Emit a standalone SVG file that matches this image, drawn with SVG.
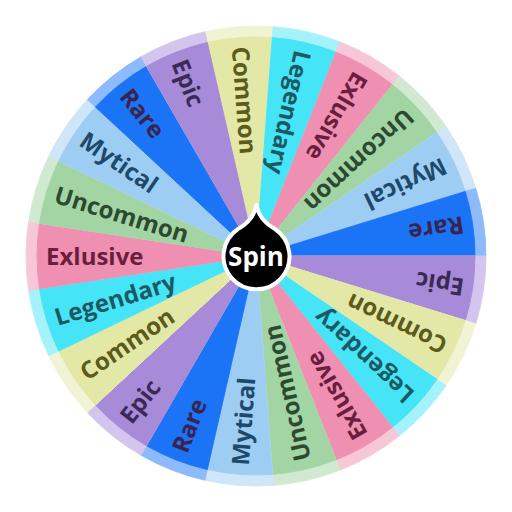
<svg xmlns="http://www.w3.org/2000/svg" xmlns:xlink="http://www.w3.org/1999/xlink" width="512" height="512" viewBox="0 0 512 512">
<style>
text.lbl{font-family:"Open Sans","Liberation Sans",sans-serif;font-weight:700;font-size:24px;}
.common .rim{fill:#f0f4d5;stroke:#f0f4d5}.common .in{fill:#e3e8a6;stroke:#e3e8a6}.common text{fill:#5c5b1c}
.legendary .rim{fill:#a6f2fb;stroke:#a6f2fb}.legendary .in{fill:#45e4f7;stroke:#45e4f7}.legendary text{fill:#1b5a63}
.exlusive .rim{fill:#f7c7d8;stroke:#f7c7d8}.exlusive .in{fill:#ef8fb1;stroke:#ef8fb1}.exlusive text{fill:#6a1e3e}
.uncommon .rim{fill:#d1e9d1;stroke:#d1e9d1}.uncommon .in{fill:#a3d4a3;stroke:#a3d4a3}.uncommon text{fill:#2b4a30}
.mytical .rim{fill:#cfe6f9;stroke:#cfe6f9}.mytical .in{fill:#9ecdf3;stroke:#9ecdf3}.mytical text{fill:#1d4a6c}
.rare .rim{fill:#8cbafa;stroke:#8cbafa}.rare .in{fill:#1a74f5;stroke:#1a74f5}.rare text{fill:#3a2350}
.epic .rim{fill:#d3c5ee;stroke:#d3c5ee}.epic .in{fill:#a78ad8;stroke:#a78ad8}.epic text{fill:#3b2a55}
.rim,.in{stroke-width:0.8;stroke-linejoin:round}
</style>
<defs>
<path id="wr" d="M256,256 L483.43,221.72 A230,230 0 0,1 483.43,290.28 Z"/>
<path id="wi" d="M256,256 L472.55,223.36 A219,219 0 0,1 472.55,288.64 Z"/>
</defs>
<g id="wheel">
<g id="seg1" class="common" transform="rotate(-94.2857 256 256)"><use href="#wr" class="rim"/><use href="#wi" class="in"/><text class="lbl" x="46" y="264.5" transform="rotate(180 256 256)">Common</text></g>
<g id="seg2" class="legendary" transform="rotate(-77.1429 256 256)"><use href="#wr" class="rim"/><use href="#wi" class="in"/><text class="lbl" x="46" y="264.5" transform="rotate(180 256 256)">Legendary</text></g>
<g id="seg3" class="exlusive" transform="rotate(-60 256 256)"><use href="#wr" class="rim"/><use href="#wi" class="in"/><text class="lbl" x="46" y="264.5" transform="rotate(180 256 256)">Exlusive</text></g>
<g id="seg4" class="uncommon" transform="rotate(-42.8571 256 256)"><use href="#wr" class="rim"/><use href="#wi" class="in"/><text class="lbl" x="46" y="264.5" transform="rotate(180 256 256)">Uncommon</text></g>
<g id="seg5" class="mytical" transform="rotate(-25.7143 256 256)"><use href="#wr" class="rim"/><use href="#wi" class="in"/><text class="lbl" x="46" y="264.5" transform="rotate(180 256 256)">Mytical</text></g>
<g id="seg6" class="rare" transform="rotate(-8.5714 256 256)"><use href="#wr" class="rim"/><use href="#wi" class="in"/><text class="lbl" x="46" y="264.5" transform="rotate(180 256 256)">Rare</text></g>
<g id="seg7" class="epic" transform="rotate(8.5714 256 256)"><use href="#wr" class="rim"/><use href="#wi" class="in"/><text class="lbl" x="46" y="264.5" transform="rotate(180 256 256)">Epic</text></g>
<g id="seg8" class="common" transform="rotate(25.7143 256 256)"><use href="#wr" class="rim"/><use href="#wi" class="in"/><text class="lbl" x="46" y="264.5" transform="rotate(180 256 256)">Common</text></g>
<g id="seg9" class="legendary" transform="rotate(42.8571 256 256)"><use href="#wr" class="rim"/><use href="#wi" class="in"/><text class="lbl" x="46" y="264.5" transform="rotate(180 256 256)">Legendary</text></g>
<g id="seg10" class="exlusive" transform="rotate(60 256 256)"><use href="#wr" class="rim"/><use href="#wi" class="in"/><text class="lbl" x="46" y="264.5" transform="rotate(180 256 256)">Exlusive</text></g>
<g id="seg11" class="uncommon" transform="rotate(77.1429 256 256)"><use href="#wr" class="rim"/><use href="#wi" class="in"/><text class="lbl" x="46" y="264.5" transform="rotate(180 256 256)">Uncommon</text></g>
<g id="seg12" class="mytical" transform="rotate(94.2857 256 256)"><use href="#wr" class="rim"/><use href="#wi" class="in"/><text class="lbl" x="46" y="264.5" transform="rotate(180 256 256)">Mytical</text></g>
<g id="seg13" class="rare" transform="rotate(111.4286 256 256)"><use href="#wr" class="rim"/><use href="#wi" class="in"/><text class="lbl" x="46" y="264.5" transform="rotate(180 256 256)">Rare</text></g>
<g id="seg14" class="epic" transform="rotate(128.5714 256 256)"><use href="#wr" class="rim"/><use href="#wi" class="in"/><text class="lbl" x="46" y="264.5" transform="rotate(180 256 256)">Epic</text></g>
<g id="seg15" class="common" transform="rotate(145.7143 256 256)"><use href="#wr" class="rim"/><use href="#wi" class="in"/><text class="lbl" x="46" y="264.5" transform="rotate(180 256 256)">Common</text></g>
<g id="seg16" class="legendary" transform="rotate(162.8571 256 256)"><use href="#wr" class="rim"/><use href="#wi" class="in"/><text class="lbl" x="46" y="264.5" transform="rotate(180 256 256)">Legendary</text></g>
<g id="seg17" class="exlusive" transform="rotate(180 256 256)"><use href="#wr" class="rim"/><use href="#wi" class="in"/><text class="lbl" x="46" y="264.5" transform="rotate(180 256 256)">Exlusive</text></g>
<g id="seg18" class="uncommon" transform="rotate(197.1429 256 256)"><use href="#wr" class="rim"/><use href="#wi" class="in"/><text class="lbl" x="46" y="264.5" transform="rotate(180 256 256)">Uncommon</text></g>
<g id="seg19" class="mytical" transform="rotate(214.2857 256 256)"><use href="#wr" class="rim"/><use href="#wi" class="in"/><text class="lbl" x="46" y="264.5" transform="rotate(180 256 256)">Mytical</text></g>
<g id="seg20" class="rare" transform="rotate(231.4286 256 256)"><use href="#wr" class="rim"/><use href="#wi" class="in"/><text class="lbl" x="46" y="264.5" transform="rotate(180 256 256)">Rare</text></g>
<g id="seg21" class="epic" transform="rotate(248.5714 256 256)"><use href="#wr" class="rim"/><use href="#wi" class="in"/><text class="lbl" x="46" y="264.5" transform="rotate(180 256 256)">Epic</text></g>
</g>
<g id="spin">
<path d="M256.5,205 Q259,220 275,229 A33,33 0 1 1 238,229 Q254,220 256.5,205 Z" fill="#000" stroke="#fff" stroke-width="4" stroke-linejoin="round"/>
<text x="256" y="266" text-anchor="middle" font-family="'Open Sans','Liberation Sans',sans-serif" font-weight="700" font-size="26" fill="#fff">Spin</text>
</g>
</svg>
